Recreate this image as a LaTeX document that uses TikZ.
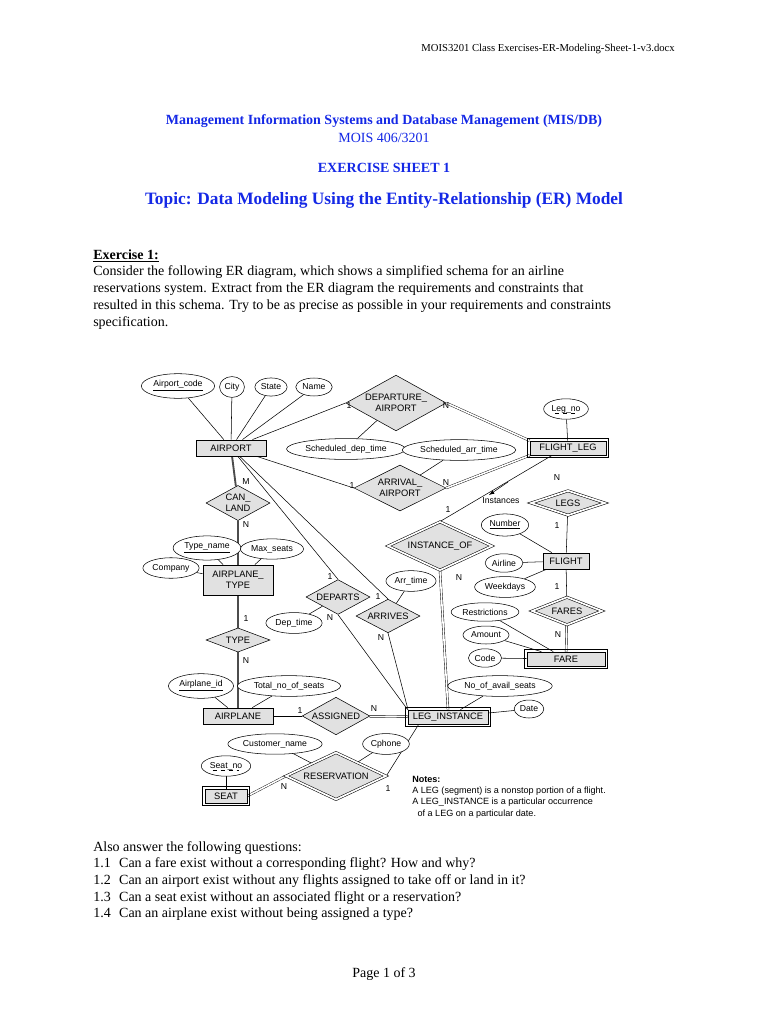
\documentclass[tikz,border=0pt]{standalone}
\usepackage{fontspec}
\setmainfont{Liberation Serif}
\newfontfamily\dsans{Liberation Sans}
\usetikzlibrary{shapes.geometric}
\definecolor{tblue}{RGB}{20,40,230}
\definecolor{shade}{RGB}{225,225,225}
\pgfdeclarelayer{bg}
\pgfsetlayers{bg,main}
\tikzset{
 every node/.style={inner sep=0pt},
 ent/.style={draw,fill=shade,font=\dsans\fontsize{7}{8}\selectfont,minimum height=16*0.75pt,align=center,line width=0.6pt},
 rel/.style={diamond,aspect=1.8,draw,fill=shade,font=\dsans\fontsize{7}{8}\selectfont,align=center,inner sep=1pt},
 wrel/.style={rel,double,double distance=1.3pt},
 att/.style={ellipse,draw,fill=white,font=\dsans\fontsize{6.5}{7.5}\selectfont,inner xsep=1pt,inner ysep=2.5pt},
 card/.style={font=\dsans\fontsize{6.5}{7}\selectfont},
 ln/.style={draw,line width=0.4pt},
 dl/.style={draw,double,double distance=1.2pt,line width=0.3pt},
 tk/.style={draw,line width=1.4pt,gray!60!black},
 body/.style={anchor=west,font=\fontsize{10.5}{12.75}\selectfont}
}
\newcommand{\wframe}[1]{\draw[line width=0.6pt] ([shift={(-1.8pt,-1.8pt)}]#1.south west) rectangle ([shift={(1.8pt,1.8pt)}]#1.north east);}
\begin{document}
\begin{tikzpicture}[x=0.75pt,y=-0.75pt]
\useasboundingbox (0,0) rectangle (768,1024);
\begin{pgfonlayer}{bg}
\fill[white] (0,0) rectangle (768,1024);
\end{pgfonlayer}
\node[anchor=east,font=\fontsize{8}{9}\selectfont] (hdr) at (675,49) {MOIS3201 Class Exercises-ER-Modeling-Sheet-1-v3.docx};
\node[text=tblue,font=\bfseries\fontsize{10.5}{12}\selectfont] (t1) at (384,121) {Management Information Systems and Database Management (MIS/DB)};
\node[text=tblue,font=\fontsize{10.5}{12}\selectfont] (t2) at (384,138) {MOIS 406/3201};
\node[text=tblue,font=\bfseries\fontsize{10.5}{12}\selectfont] (t3) at (384,168) {EXERCISE SHEET 1};
\node[text=tblue,font=\bfseries\fontsize{13}{15}\selectfont] (t4) at (384,200) {Topic: Data Modeling Using the Entity-Relationship (ER) Model};
\node[body,font=\bfseries\fontsize{10.5}{12}\selectfont] (ex) at (93,256) {\underline{Exercise 1:}};
\node[body,align=left,anchor=north west] (par) at (93,265) {Consider the following ER diagram, which shows a simplified schema for an airline\\reservations system. Extract from the ER diagram the requirements and constraints that\\resulted in this schema. Try to be as precise as possible in your requirements and constraints\\specification.};

% nodes
\node[ent,minimum width=70*0.75pt] (airport) at (231,448) {AIRPORT};
\node[rel,minimum width=98*0.75pt] (dep) at (396,403) {DEPARTURE\_\\AIRPORT};
\node[ent,minimum width=76*0.75pt,minimum height=14*0.75pt] (fleg) at (568,448) {FLIGHT\_LEG};
\wframe{fleg}
\node[rel,minimum width=92*0.75pt] (arr) at (400,488) {ARRIVAL\_\\AIRPORT};
\node[wrel,minimum width=74*0.75pt] (legs) at (568,503) {LEGS};
\node[rel,minimum width=64*0.75pt] (canland) at (238,503) {CAN\_\\LAND};
\node[wrel,minimum width=104*0.75pt] (instof) at (440,546) {INSTANCE\_OF};
\node[ent,minimum width=46*0.75pt] (flight) at (566,561) {FLIGHT};
\node[ent,minimum width=70*0.75pt,minimum height=30*0.75pt] (aptype) at (238,580) {AIRPLANE\_\\TYPE};
\node[rel,minimum width=64*0.75pt] (departs) at (338,597) {DEPARTS};
\node[rel,minimum width=64*0.75pt] (arrives) at (388,616) {ARRIVES};
\node[wrel,minimum width=70*0.75pt] (fares) at (567,611) {FARES};
\node[ent,minimum width=78*0.75pt,minimum height=14*0.75pt] (fare) at (566,659) {FARE};
\wframe{fare}
\node[rel,minimum width=64*0.75pt] (type) at (238,640) {TYPE};
\node[ent,minimum width=70*0.75pt] (airplane) at (238,716) {AIRPLANE};
\node[rel,minimum width=66*0.75pt] (assigned) at (336,716) {ASSIGNED};
\node[ent,minimum width=80*0.75pt,minimum height=14*0.75pt] (legi) at (448,717) {LEG\_INSTANCE};
\wframe{legi}
\node[wrel,minimum width=100*0.75pt] (resv) at (336,776) {RESERVATION};
\node[ent,minimum width=42*0.75pt,minimum height=14*0.75pt] (seat) at (226,796) {SEAT};
\wframe{seat}

% attributes
\node[att] (apcode) at (178,386) {\underline{Airport\_code}};
\node[att] (city) at (232,387) {City};
\node[att] (state) at (271,387) {State};
\node[att] (name) at (314,387) {Name};
\node[att] (legno) at (566,409) {Leg\_no};
\draw[dashed,line width=0.4pt] ([xshift=-8pt,yshift=-3.2pt]legno.center) -- ++(16pt,0);
\node[att] (sdt) at (346,449) {Scheduled\_dep\_time};
\node[att] (sat) at (459,450) {Scheduled\_arr\_time};
\node[att] (number) at (505,525) {\underline{Number}};
\node[att] (airline) at (504,563) {Airline};
\node[att] (weekdays) at (505,587) {Weekdays};
\node[att] (typename) at (207,548) {\underline{Type\_name}};
\node[att] (maxseats) at (272,549) {Max\_seats};
\node[att] (company) at (171,568) {Company};
\node[att] (arrtime) at (411,581) {Arr\_time};
\node[att] (deptime) at (294,623) {Dep\_time};
\node[att] (restr) at (485,612) {Restrictions};
\node[att] (amount) at (486,635) {Amount};
\node[att] (code) at (485,658) {Code};
\node[att] (apid) at (201,686) {\underline{Airplane\_id}};
\node[att] (totseats) at (289,686) {Total\_no\_of\_seats};
\node[att] (avail) at (500,686) {No\_of\_avail\_seats};
\node[att] (date) at (529,709) {Date};
\node[att] (custname) at (275,744) {Customer\_name};
\node[att] (cphone) at (386,744) {Cphone};
\node[att] (seatno) at (226,766) {Seat\_no};
\draw[dashed,line width=0.4pt] ([xshift=-10pt,yshift=-3.2pt]seatno.center) -- ++(20pt,0);

\begin{pgfonlayer}{bg}
\foreach \a in {apcode,city,state,name} \draw[ln] (\a) -- (airport);
\draw[ln] (legno) -- (fleg);
\draw[ln] (sdt) -- (dep);
\draw[ln] (sat) -- (arr);
\draw[ln] (number) -- (flight);
\draw[ln] (airline) -- (flight);
\draw[ln] (weekdays) -- (flight);
\draw[ln] (typename) -- (aptype);
\draw[ln] (maxseats) -- (aptype);
\draw[ln] (company) -- (aptype);
\draw[ln] (arrtime) -- (arrives);
\draw[ln] (deptime) -- (departs);
\draw[ln] (restr) -- (fare);
\draw[ln] (amount) -- (fare);
\draw[ln] (code) -- (fare);
\draw[ln] (apid) -- (airplane);
\draw[ln] (totseats) -- (airplane);
\draw[ln] (avail) -- (legi);
\draw[ln] (date) -- (legi);
\draw[ln] (custname) -- (resv);
\draw[ln] (cphone) -- (resv);
\draw[ln] (seatno) -- (seat);

\draw[ln] (airport) -- (dep.west);
\draw[dl] (dep.east) -- (fleg.north west);
\draw[ln] (airport) -- (arr.west);
\draw[dl] (arr.east) -- (fleg.south west);
\draw[dl] (fleg) -- (legs);
\draw[ln] (legs) -- (flight);
\draw[ln] (flight) -- (fares);
\draw[dl] (fares) -- (fare);
\draw[ln] ([xshift=-12pt]fleg.south) -- (instof.north);
\draw[dl] (instof.south) -- (legi.north);
\draw[tk] (airport) -- (canland);
\draw[tk] (canland) -- (aptype);
\draw[tk] (aptype) -- (type);
\draw[tk] (type) -- (airplane);
\draw[ln] (airport) -- (departs.north);
\draw[ln] (airport) -- (arrives.north);
\draw[ln] (departs.south) -- (legi.north west);
\draw[ln] (arrives.south) -- ([xshift=-30pt]legi.north);
\draw[ln] (airplane) -- (assigned);
\draw[dl] (assigned) -- (legi);
\draw[ln] (resv.east) -- ([xshift=-22pt]legi.south);
\draw[dl] (resv.west) -- (seat.east);
\end{pgfonlayer}

\node[card] (c0) at (349,406) {1};
\node[card] (c1) at (446,406) {N};
\node[card] (c2) at (352,486) {1};
\node[card] (c3) at (446,483) {N};
\node[card] (c4) at (557,478) {N};
\node[card] (c5) at (557,526) {1};
\node[card] (c6) at (557,587) {1};
\node[card] (c7) at (558,635) {N};
\node[card] (c8) at (448,510) {1};
\node[card] (c9) at (459,578) {N};
\node[font=\dsans\fontsize{6.5}{7}\selectfont] (inst) at (501,501) {Instances};
\coordinate (ia) at (508,482);
\coordinate (ib) at (489,495);
\draw[-latex,line width=0.4pt] (ia) -- (ib);
\node[card] (c10) at (246,482) {M};
\node[card] (c11) at (246,525) {N};
\node[card] (c12) at (246,619) {1};
\node[card] (c13) at (246,661) {N};
\node[card] (c14) at (330,577) {1};
\node[card] (c15) at (378,597) {1};
\node[card] (c16) at (330,618) {N};
\node[card] (c17) at (381,638) {N};
\node[card] (c18) at (300,711) {1};
\node[card] (c19) at (374,709) {N};
\node[card] (c20) at (388,789) {1};
\node[card] (c21) at (284,787) {N};

\node[anchor=north west,align=left,font=\dsans\fontsize{6.8}{8.4}\selectfont] (notes) at (412,776) {\textbf{Notes:}\\A LEG (segment) is a nonstop portion of a flight.\\A LEG\_INSTANCE is a particular occurrence\\\hspace*{4pt}of a LEG on a particular date.};

\node[body] (q0) at (93,848) {Also answer the following questions:};
\node[body] (q1) at (93,864) {1.1\hspace{0.6em}Can a fare exist without a corresponding flight? How and why?};
\node[body] (q2) at (93,881) {1.2\hspace{0.6em}Can an airport exist without any flights assigned to take off or land in it?};
\node[body] (q3) at (93,898) {1.3\hspace{0.6em}Can a seat exist without an associated flight or a reservation?};
\node[body] (q4) at (93,914) {1.4\hspace{0.6em}Can an airplane exist without being assigned a type?};
\node[font=\fontsize{10.5}{12}\selectfont] (pg) at (384,974) {Page 1 of 3};
\end{tikzpicture}
\end{document}
